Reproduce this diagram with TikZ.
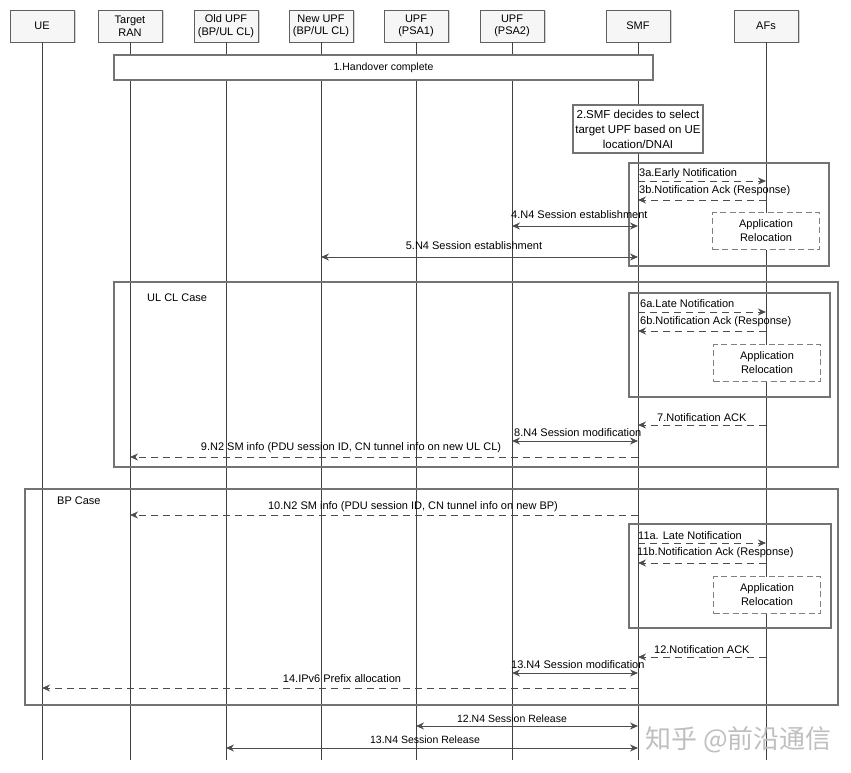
\documentclass[tikz,border=0pt]{standalone}
\usepackage{fontspec}
\setmainfont{Liberation Sans}
\newfontfamily\cjkfont{Noto Sans CJK SC}
\usetikzlibrary{arrows.meta,shadows}

\tikzset{
  actor/.style={draw=gray!75!black, fill=gray!7, minimum width=64pt, minimum height=32pt,
    inner sep=1pt, align=center, font=\fontsize{11}{12.5}\selectfont,
    drop shadow={opacity=0.35, shadow xshift=1.5pt, shadow yshift=-1.5pt}},
  life/.style={draw=black!75, line width=1pt},
  frame/.style={draw=black!55, line width=1.1pt},
  notebox/.style={draw=black!55, fill=white, line width=1.1pt, align=center,
    font=\fontsize{11.5}{15}\selectfont, inner sep=0pt},
  relbox/.style={draw=black!50, fill=white, line width=1.4pt, dash pattern=on 6pt off 3.5pt,
    minimum width=107pt, minimum height=37pt, align=center, inner sep=0pt,
    font=\fontsize{11}{14}\selectfont},
  lbl/.style={font=\fontsize{11}{12}\selectfont, inner sep=0pt},
  msg/.style={draw=black!70, line width=1pt, -{Stealth[length=8pt,width=7pt]}},
  rsp/.style={msg, dash pattern=on 7pt off 5pt},
  both/.style={msg, {Stealth[length=8pt,width=7pt]}-{Stealth[length=8pt,width=7pt]}},
}

\begin{document}
\begin{tikzpicture}[x=1pt,y=-1pt]
  \useasboundingbox (0,0) rectangle (851,773);

  % participants
  \node[actor] (ue)   at (42,26)  {UE};
  \node[actor] (ran)  at (130,26) {Target\\RAN};
  \node[actor] (oupf) at (226,26) {Old UPF\\(BP/UL CL)};
  \node[actor] (nupf) at (321,26) {New UPF\\(BP/UL CL)};
  \node[actor] (psa1) at (416,26) {UPF\\(PSA1)};
  \node[actor] (psa2) at (512,26) {UPF\\(PSA2)};
  \node[actor] (smf)  at (638,26) {SMF};
  \node[actor] (af)   at (766,26) {AFs};

  % lifelines
  \foreach \p in {ue,ran,oupf,nupf,psa1,psa2,smf,af}
    \draw[life] (\p.south) -- (\p.south |- 0,760);

  % frames
  \draw[frame] (114,282) rectangle (838,467);
  \draw[frame] (25,489) rectangle (838,705);
  \draw[frame] (629,163) rectangle (829,266);
  \draw[frame] (629,293) rectangle (830,397);
  \draw[frame] (629,524) rectangle (831,628);
  \node[lbl, anchor=west] (ulcl) at (147,298) {UL CL Case};
  \node[lbl, anchor=west] (bp)   at (57,501)  {BP Case};

  % notes
  \node[notebox, font=\fontsize{10.5}{12}\selectfont, minimum width=539pt, minimum height=25pt]
    (ho) at (383.5,67.5) {1.Handover complete};
  \node[notebox, minimum width=130pt, minimum height=48pt] (sel) at (638,129)
    {2.SMF decides to select\\target UPF based on UE\\location/DNAI};
  \node[relbox] (rel3)  at (766,231) {Application\\Relocation};
  \node[relbox] (rel6)  at (767,363) {Application\\Relocation};
  \node[relbox] (rel11) at (767,595) {Application\\Relocation};

  % step 3-5
  \draw[rsp] (smf |- 0,181) -- (af |- 0,181);
  \node[lbl, anchor=west] (m3a) at (639,174) {3a.Early Notification};
  \draw[rsp] (af |- 0,200) -- (smf |- 0,200);
  \node[lbl, anchor=west] (m3b) at (639,191) {3b.Notification Ack (Response)};
  \draw[both] (psa2 |- 0,226) -- (smf |- 0,226);
  \node[lbl, anchor=west] (m4) at (511,215) {4.N4 Session establishment};
  \draw[both] (nupf |- 0,257) -- (smf |- 0,257);
  \node[lbl] (m5) at (474,246) {5.N4 Session establishment};

  % UL CL case
  \draw[rsp] (smf |- 0,312) -- (af |- 0,312);
  \node[lbl, anchor=west] (m6a) at (640,304) {6a.Late Notification};
  \draw[rsp] (af |- 0,331) -- (smf |- 0,331);
  \node[lbl, anchor=west] (m6b) at (640,322) {6b.Notification Ack (Response)};
  \draw[rsp] (af |- 0,425) -- (smf |- 0,425);
  \node[lbl, anchor=west] (m7) at (657,418) {7.Notification ACK};
  \draw[both] (psa2 |- 0,441) -- (smf |- 0,441);
  \node[lbl, anchor=west] (m8) at (514,433) {8.N4 Session modification};
  \draw[rsp] (smf |- 0,457) -- (ran |- 0,457);
  \node[lbl] (m9) at (351,448) {9.N2 SM info (PDU session ID, CN tunnel info on new UL CL)};

  % BP case
  \draw[rsp] (smf |- 0,515) -- (ran |- 0,515);
  \node[lbl] (m10) at (413,507) {10.N2 SM info (PDU session ID, CN tunnel info on new BP)};
  \draw[rsp] (smf |- 0,543) -- (af |- 0,543);
  \node[lbl, anchor=west] (m11a) at (638,536) {11a. Late Notification};
  \draw[rsp] (af |- 0,563) -- (smf |- 0,563);
  \node[lbl, anchor=west] (m11b) at (637,553) {11b.Notification Ack (Response)};
  \draw[rsp] (af |- 0,657) -- (smf |- 0,657);
  \node[lbl, anchor=west] (m12) at (654,650) {12.Notification ACK};
  \draw[both] (psa2 |- 0,673) -- (smf |- 0,673);
  \node[lbl, anchor=west] (m13) at (511,665) {13.N4 Session modification};
  \draw[rsp] (smf |- 0,688) -- (ue |- 0,688);
  \node[lbl] (m14) at (342,679) {14.IPv6 Prefix allocation};

  % release
  \draw[both] (psa1 |- 0,726) -- (smf |- 0,726);
  \node[lbl, font=\fontsize{10.5}{12}\selectfont] (r12) at (512,719) {12.N4 Session Release};
  \draw[both] (oupf |- 0,748) -- (smf |- 0,748);
  \node[lbl, font=\fontsize{10.5}{12}\selectfont] (r13) at (425,740) {13.N4 Session Release};

  \node[text=gray!50, font=\cjkfont\fontsize{26}{28}\selectfont, anchor=west, inner sep=0pt]
    (wm) at (645,740) {知乎 @前沿通信};
\end{tikzpicture}
\end{document}
